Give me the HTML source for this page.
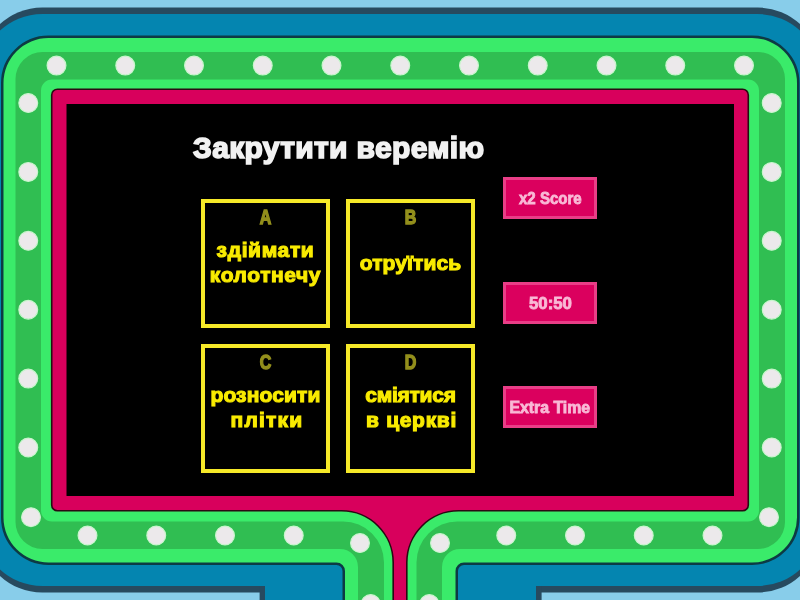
<!DOCTYPE html>
<html>
<head>
<meta charset="utf-8">
<style>
html,body{margin:0;padding:0;width:800px;height:600px;overflow:hidden;background:#88cdea;}
body{position:relative;font-family:"Liberation Sans",sans-serif;}
#frame{position:absolute;left:0;top:0;}
.t{position:absolute;white-space:nowrap;font-weight:bold;}
#ui{position:absolute;left:0;top:0;width:800px;height:600px;will-change:transform;}
.box{position:absolute;box-sizing:border-box;width:129px;height:129px;border:4px solid #f6e928;}
.lbl{position:absolute;left:0;right:0;text-align:center;color:#938f1c;font-size:20px;font-weight:bold;top:3px;transform:scaleX(0.8);-webkit-text-stroke:1.4px #938f1c;}
.ans{position:absolute;left:-10px;right:-10px;text-align:center;color:#f9eb00;font-size:21px;font-weight:bold;line-height:25px;letter-spacing:0.7px;-webkit-text-stroke:1.1px #f9eb00;}
.btn{position:absolute;box-sizing:border-box;left:503px;width:94px;height:42px;background:#db005e;border:3px solid #e93e87;color:#f9b9d6;font-weight:bold;font-size:16px;text-align:center;line-height:38px;-webkit-text-stroke:0.8px #f9b9d6;}
.btn span{display:inline-block;}
</style>
</head>
<body>
<svg id="frame" width="800" height="600" viewBox="0 0 800 600">
  <!-- sky -->
  <rect x="0" y="0" width="800" height="600" fill="#88cdea"/>
  <!-- blue outer body -->
  <rect x="-20" y="7.5" width="840" height="585" rx="62.4" fill="#274a5f"/>
  <rect x="259.6" y="540" width="282" height="70" fill="#274a5f"/>
  <rect x="-20" y="14" width="840" height="572" rx="62.4" fill="#0485b0"/>
  <rect x="265" y="540" width="271" height="70" fill="#0485b0"/>
  <!-- green outer shape -->
  <path d="M48.5,38 H752 A45,45 0 0 1 797,83 V517.5 A45,45 0 0 1 752,562.5 H464 A8.5,8.5 0 0 0 455.5,571 V620 H345 V571 A8.5,8.5 0 0 0 336.5,562.5 H48.5 A45,45 0 0 1 3.5,517.5 V83 A45,45 0 0 1 48.5,38 Z"
        fill="#3aeb6a" stroke="#0d3a44" stroke-width="5" paint-order="stroke"/>
  <!-- dark green band -->
  <path fill-rule="evenodd" fill="#30be52" d="
    M42.5,52 H758 A27,27 0 0 1 785,79 V522 A27,27 0 0 1 758,549 H460 A18,18 0 0 0 442,567 V620 H358 V567 A18,18 0 0 0 340,549 H42.5 A27,27 0 0 1 15.5,522 V79 A27,27 0 0 1 42.5,52 Z
    M52,79.5 H748 A11,11 0 0 1 759,90.5 V510.5 A11,11 0 0 1 748,521.5 H457.5 A41,41 0 0 0 416.5,562.5 V620 H384 V562.5 A41,41 0 0 0 343,521.5 H52 A11,11 0 0 1 41,510.5 V90.5 A11,11 0 0 1 52,79.5 Z"/>
  <!-- dots -->
  <g fill="#ece9eb" stroke="#c9f5cd" stroke-width="1.2"><circle cx="56.5" cy="65.6" r="9.4"/><circle cx="125.25" cy="65.6" r="9.4"/><circle cx="194" cy="65.6" r="9.4"/><circle cx="262.75" cy="65.6" r="9.4"/><circle cx="331.5" cy="65.6" r="9.4"/><circle cx="400.25" cy="65.6" r="9.4"/><circle cx="469" cy="65.6" r="9.4"/><circle cx="537.75" cy="65.6" r="9.4"/><circle cx="606.5" cy="65.6" r="9.4"/><circle cx="675.25" cy="65.6" r="9.4"/><circle cx="744" cy="65.6" r="9.4"/><circle cx="28.25" cy="103" r="9.4"/><circle cx="771.75" cy="103" r="9.4"/><circle cx="28.25" cy="171.9" r="9.4"/><circle cx="771.75" cy="171.9" r="9.4"/><circle cx="28.25" cy="240.8" r="9.4"/><circle cx="771.75" cy="240.8" r="9.4"/><circle cx="28.25" cy="309.7" r="9.4"/><circle cx="771.75" cy="309.7" r="9.4"/><circle cx="28.25" cy="378.6" r="9.4"/><circle cx="771.75" cy="378.6" r="9.4"/><circle cx="28.25" cy="447.5" r="9.4"/><circle cx="771.75" cy="447.5" r="9.4"/><circle cx="31" cy="517.2" r="9.4"/><circle cx="769" cy="517.2" r="9.4"/><circle cx="87.5" cy="535.5" r="9.4"/><circle cx="712.5" cy="535.5" r="9.4"/><circle cx="156.25" cy="535.5" r="9.4"/><circle cx="643.75" cy="535.5" r="9.4"/><circle cx="225" cy="535.5" r="9.4"/><circle cx="575" cy="535.5" r="9.4"/><circle cx="293.75" cy="535.5" r="9.4"/><circle cx="506.25" cy="535.5" r="9.4"/><circle cx="360" cy="543" r="9.4"/><circle cx="440" cy="543" r="9.4"/><circle cx="370.7" cy="604" r="9.4"/><circle cx="429.3" cy="604" r="9.4"/></g>
  <!-- pink -->
  <path fill="#d8005c" stroke="#2a0912" stroke-width="3.2" paint-order="stroke" d="
    M57.5,90 H742.5 A5,5 0 0 1 747.5,95 V505 A5,5 0 0 1 742.5,510 H458.5 A52.5,52.5 0 0 0 406,562.5 V620 H394 V562.5 A52.5,52.5 0 0 0 341.5,510 H57.5 A5,5 0 0 1 52.5,505 V95 A5,5 0 0 1 57.5,90 Z"/>
  <rect x="66.5" y="104" width="667.5" height="392" fill="#000"/>
</svg>

<div id="ui">
<div class="t" style="left:193px;top:131px;font-size:30px;letter-spacing:0.35px;color:#f2f2f2;-webkit-text-stroke:1.6px #f2f2f2;">Закрутити веремію</div>

<div class="box" style="left:201px;top:199px;"><div class="lbl">A</div><div class="ans" style="top:34px;"><span style="letter-spacing:0.65px">здіймати</span><br><span style="letter-spacing:0.6px">колотнечу</span></div></div>
<div class="box" style="left:346px;top:199px;"><div class="lbl">B</div><div class="ans" style="top:47px;letter-spacing:0.1px">отруїтись</div></div>
<div class="box" style="left:201px;top:344px;"><div class="lbl">C</div><div class="ans" style="top:34px;"><span style="letter-spacing:0.15px">розносити</span><br><span style="letter-spacing:1.2px;position:relative;left:1.5px">плітки</span></div></div>
<div class="box" style="left:346px;top:344px;"><div class="lbl">D</div><div class="ans" style="top:34px;"><span style="letter-spacing:-0.25px">сміятися</span><br><span style="letter-spacing:0.7px;position:relative;left:1px">в церкві</span></div></div>

<div class="btn" style="top:177px;"><span style="transform:scaleX(0.94)">x2 Score</span></div>
<div class="btn" style="top:282px;"><span style="transform:scaleX(1.05)">50:50</span></div>
<div class="btn" style="top:386px;"><span style="transform:scaleX(0.99)">Extra Time</span></div>
</div>
</body>
</html>
